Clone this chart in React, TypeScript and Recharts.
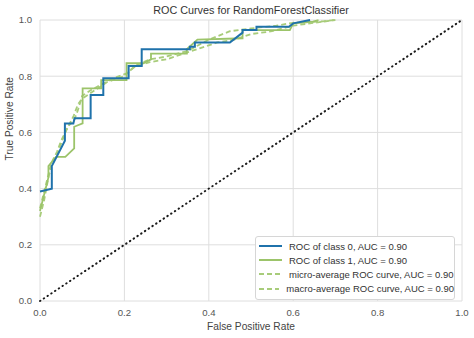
import React from "react";
import { CartesianGrid, Line, LineChart, XAxis, YAxis } from "recharts";

// ROC points (false positive rate / true positive rate)
const class0Fpr = [0, 0.028, 0.028, 0.059, 0.059, 0.079, 0.082, 0.12, 0.12, 0.15, 0.15, 0.21, 0.21, 0.241, 0.241, 0.355, 0.355, 0.367, 0.367, 0.45, 0.48, 0.48, 0.513, 0.513, 0.59, 0.6, 0.64];
const class0Tpr = [0.39, 0.4, 0.48, 0.57, 0.632, 0.632, 0.65, 0.65, 0.733, 0.733, 0.793, 0.793, 0.836, 0.836, 0.896, 0.896, 0.905, 0.905, 0.92, 0.92, 0.955, 0.964, 0.964, 0.976, 0.976, 0.988, 1];

const class1Fpr = [0, 0.02, 0.02, 0.038, 0.06, 0.081, 0.081, 0.101, 0.101, 0.145, 0.145, 0.205, 0.205, 0.245, 0.263, 0.263, 0.348, 0.348, 0.373, 0.48, 0.48, 0.592, 0.6, 0.647, 0.66];
const class1Tpr = [0.32, 0.44, 0.48, 0.513, 0.513, 0.543, 0.62, 0.632, 0.757, 0.757, 0.786, 0.786, 0.846, 0.846, 0.86, 0.88, 0.88, 0.896, 0.93, 0.935, 0.964, 0.964, 0.988, 0.994, 1];

const microFpr = [0, 0.01, 0.02, 0.03, 0.04, 0.05, 0.06, 0.07, 0.08, 0.09, 0.1, 0.12, 0.14, 0.16, 0.2, 0.22, 0.26, 0.3, 0.34, 0.38, 0.42, 0.46, 0.5, 0.55, 0.6, 0.65, 0.7];
const microTpr = [0.3, 0.36, 0.44, 0.5, 0.53, 0.57, 0.6, 0.63, 0.66, 0.7, 0.72, 0.74, 0.76, 0.78, 0.8, 0.83, 0.85, 0.86, 0.88, 0.9, 0.92, 0.93, 0.95, 0.96, 0.98, 0.99, 1];

const macroFpr = [0, 0.015, 0.025, 0.04, 0.055, 0.065, 0.08, 0.09, 0.1, 0.12, 0.145, 0.17, 0.205, 0.23, 0.26, 0.3, 0.35, 0.4, 0.45, 0.5, 0.56, 0.6, 0.67, 0.7];
const macroTpr = [0.33, 0.42, 0.48, 0.52, 0.58, 0.62, 0.64, 0.68, 0.73, 0.75, 0.77, 0.79, 0.81, 0.84, 0.86, 0.87, 0.89, 0.93, 0.96, 0.97, 0.98, 0.99, 0.995, 1];

const chanceFpr = [0, 1];
const chanceTpr = [0, 1];

const ticks = [0, 0.2, 0.4, 0.6, 0.8, 1];

const BLUE = "#1f72ab";
const GREEN = "#9cc46a";
const GREEN_DASH = "#a8cc7a";

const legendItems = [
  { label: "ROC of class 0, AUC = 0.90", color: BLUE, dash: undefined },
  { label: "ROC of class 1, AUC = 0.90", color: GREEN, dash: undefined },
  { label: "micro-average ROC curve, AUC = 0.90", color: GREEN_DASH, dash: "5 3" },
  { label: "macro-average ROC curve, AUC = 0.90", color: GREEN_DASH, dash: "5 3" }
];

const toPoints = (xs: number[], ys: number[]) => xs.map((x, i) => ({ x, y: ys[i] }));

const FONT = '"Liberation Sans", Arial, sans-serif';

function RocLegend() {
  return (
    <div
      style={{
        position: "absolute",
        left: 255,
        top: 236,
        width: 200,
        boxSizing: "border-box",
        background: "#fff",
        border: "1px solid #d6d6d6",
        borderRadius: 3,
        padding: "2px 0 3px 2px",
        fontFamily: FONT,
        fontSize: 9.5,
        color: "#333"
      }}
    >
      {legendItems.map((item) => (
        <div key={item.label} style={{ display: "flex", alignItems: "center", height: 14.2, whiteSpace: "nowrap" }}>
          <svg width={23} height={6} style={{ marginLeft: 1, marginRight: 7 }}>
            <line x1={0} y1={3} x2={23} y2={3} stroke={item.color} strokeWidth={2} strokeDasharray={item.dash} />
          </svg>
          <span>{item.label}</span>
        </div>
      ))}
    </div>
  );
}

export default function App() {
  return (
    <div style={{ position: "relative", width: 474, height: 338, background: "#fff", fontFamily: FONT }}>
      <style>{`body{margin:0}`}</style>
      <div
        style={{
          position: "absolute",
          top: 4,
          left: 40,
          width: 422,
          textAlign: "center",
          fontSize: 10.8,
          color: "#333"
        }}
      >
        ROC Curves for RandomForestClassifier
      </div>
      <LineChart width={474} height={338} margin={{ top: 20, right: 12, bottom: 0, left: 0 }}>
        <CartesianGrid stroke="#dedede" horizontalValues={ticks} verticalValues={ticks} />
        <XAxis
          type="number"
          dataKey="x"
          domain={[0, 1]}
          ticks={ticks}
          tickFormatter={(v: number) => v.toFixed(1)}
          tickLine={false}
          axisLine={false}
          height={37}
          tick={{ fill: "#555", fontSize: 9.6, fontFamily: FONT }}
          allowDuplicatedCategory={false}
          label={{ value: "False Positive Rate", position: "insideBottom", offset: 8, fill: "#444", fontSize: 10.2, fontFamily: FONT }}
        />
        <YAxis
          type="number"
          dataKey="y"
          domain={[0, 1]}
          ticks={ticks}
          tickFormatter={(v: number) => v.toFixed(1)}
          tickLine={false}
          axisLine={false}
          width={40}
          tick={{ fill: "#555", fontSize: 9.6, fontFamily: FONT }}
          label={{ value: "True Positive Rate", angle: -90, position: "insideLeft", offset: 9, fill: "#444", fontSize: 10.2, fontFamily: FONT }}
        />
        <Line
          data={toPoints(chanceFpr, chanceTpr)}
          dataKey="y"
          stroke="#1a1a1a"
          strokeWidth={2}
          strokeDasharray="0.5 4"
          strokeLinecap="round"
          dot={false}
          activeDot={false}
          isAnimationActive={false}
        />
        <Line
          data={toPoints(macroFpr, macroTpr)}
          dataKey="y"
          type="linear"
          stroke={GREEN_DASH}
          strokeWidth={1.8}
          strokeDasharray="5 3"
          dot={false}
          activeDot={false}
          isAnimationActive={false}
        />
        <Line
          data={toPoints(microFpr, microTpr)}
          dataKey="y"
          type="linear"
          stroke={GREEN_DASH}
          strokeWidth={1.8}
          strokeDasharray="5 3"
          dot={false}
          activeDot={false}
          isAnimationActive={false}
        />
        <Line
          data={toPoints(class1Fpr, class1Tpr)}
          dataKey="y"
          type="linear"
          stroke={GREEN}
          strokeWidth={1.8}
          dot={false}
          activeDot={false}
          isAnimationActive={false}
        />
        <Line
          data={toPoints(class0Fpr, class0Tpr)}
          dataKey="y"
          type="linear"
          stroke={BLUE}
          strokeWidth={2}
          dot={false}
          activeDot={false}
          isAnimationActive={false}
        />
      </LineChart>
      <RocLegend />
    </div>
  );
}
